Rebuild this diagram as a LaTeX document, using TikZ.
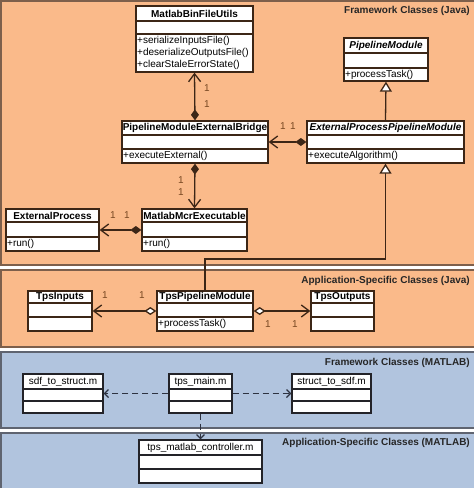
\documentclass[tikz,border=0pt]{standalone}
\usepackage{fontspec}
\setmainfont{Liberation Sans}
\usetikzlibrary{arrows.meta,fit}
\definecolor{panelOrange}{RGB}{250,186,138}
\definecolor{panelBlue}{RGB}{177,196,222}
\definecolor{edgeOrange}{RGB}{125,95,75}
\definecolor{edgeBlue}{RGB}{95,100,112}
\definecolor{lineDark}{RGB}{60,38,22}
\definecolor{boxBlue}{RGB}{35,35,40}
\definecolor{multColor}{RGB}{120,72,35}
\definecolor{dashBlue}{RGB}{45,50,65}
\tikzset{
  clsname/.style={font=\fontsize{10}{12}\selectfont\bfseries, inner sep=0pt},
  clsnamei/.style={font=\fontsize{10}{12}\selectfont\bfseries\itshape, inner sep=0pt},
  clsnamer/.style={font=\fontsize{10}{12}\selectfont, inner sep=0pt},
  ops/.style={font=\fontsize{10}{12}\selectfont, align=left, anchor=west, inner xsep=1pt, inner ysep=0pt},
  mult/.style={font=\fontsize{10}{12}\selectfont, text=multColor, inner sep=0pt},
  paneltitle/.style={font=\fontsize{10}{12}\selectfont\bfseries, text=black!85, anchor=east, inner sep=0pt},
  assoc/.style={draw=lineDark, line width=1.3pt},
  barb/.tip={Straight Barb[length=8pt,width=12pt]},
  fdiam/.tip={Diamond[length=11pt,width=8pt]},
  odiam/.tip={Diamond[open,fill=white,length=12pt,width=8pt]},
  otri/.tip={Triangle[open,fill=white,length=10pt,width=12pt]},
  dep/.style={draw=dashBlue, line width=1.2pt, dash pattern=on 6pt off 4pt},
  dbarb/.tip={Straight Barb[length=4pt,width=8pt]},
}
% name, x1, y1, x2, y2, line1, line2, title style, title
\newcommand{\umlclass}[9]{%
  \node[draw=lineDark, fill=white, line width=1.3pt, inner sep=0pt, fit={(#2,#3) (#4,#5)}] (#1) {};
  \draw[draw=lineDark, line width=1.1pt] (#2,#6) -- (#4,#6) (#2,#7) -- (#4,#7);
  \node[#8] (#1-name) at ({(#2+#4)/2},{(#3+#6)/2}) {#9};
}
\newcommand{\mclass}[9]{%
  \node[draw=boxBlue, fill=white, line width=1.3pt, inner sep=0pt, fit={(#2,#3) (#4,#5)}] (#1) {};
  \draw[draw=boxBlue, line width=1.1pt] (#2,#6) -- (#4,#6) (#2,#7) -- (#4,#7);
  \node[#8] (#1-name) at ({(#2+#4)/2},{(#3+#6)/2}) {#9};
}
\begin{document}
\begin{tikzpicture}[x=1pt,y=-1pt]
\useasboundingbox (0,0) rectangle (474,488);
\clip (0,0) rectangle (474,488);
\fill[white] (0,0) rectangle (474,488);
% panels
\draw[fill=panelOrange, draw=edgeOrange, line width=2pt] (1,1) rectangle (484,265);
\draw[fill=panelOrange, draw=edgeOrange, line width=2pt] (1,270) rectangle (484,347);
\draw[fill=panelBlue, draw=edgeBlue, line width=2pt] (1,352) rectangle (484,428);
\draw[fill=panelBlue, draw=edgeBlue, line width=2pt] (1,433) rectangle (484,496);
\node[paneltitle] (t1) at (470,11) {Framework Classes (Java)};
\node[paneltitle] (t2) at (470,281) {Application-Specific Classes (Java)};
\node[paneltitle] (t3) at (470,363) {Framework Classes (MATLAB)};
\node[paneltitle] (t4) at (470,443) {Application-Specific Classes (MATLAB)};
% Java framework classes
\umlclass{mbfu}{136}{6}{253}{72}{21}{34}{clsname}{MatlabBinFileUtils}
\node[ops] (mbfu-ops) at (136,53) {+serializeInputsFile()\\+deserializeOutputsFile()\\+clearStaleErrorState()};
\umlclass{pm}{344}{38}{428}{81}{53}{68}{clsnamei}{PipelineModule}
\node[ops] (pm-ops) at (344,74.5) {+processTask()};
\umlclass{bridge}{122}{121}{268}{163}{135}{149}{clsname}{PipelineModuleExternalBridge}
\node[ops] (bridge-ops) at (122,156) {+executeExternal()};
\umlclass{eppm}{307}{121}{464}{163}{135}{149}{clsnamei}{ExternalProcessPipelineModule}
\node[ops] (eppm-ops) at (307,156) {+executeAlgorithm()};
\umlclass{extproc}{6}{209}{99}{251}{222}{237}{clsname}{ExternalProcess}
\node[ops] (extproc-ops) at (6,244) {+run()};
\umlclass{mme}{142}{209}{247}{251}{222}{237}{clsname}{MatlabMcrExecutable}
\node[ops] (mme-ops) at (142,244) {+run()};
% Java application classes
\umlclass{tpsin}{28}{291}{92}{331}{303}{317}{clsname}{TpsInputs}
\umlclass{tpm}{157}{291}{253}{331}{303}{317}{clsname}{TpsPipelineModule}
\node[ops] (tpm-ops) at (157,324) {+processTask()};
\umlclass{tpsout}{311}{291}{374}{331}{303}{317}{clsname}{TpsOutputs}
% MATLAB classes
\mclass{sdf2s}{23}{374}{103}{413}{389}{401}{clsnamer}{sdf\_to\_struct.m}
\mclass{tpsmain}{169}{374}{232}{413}{389}{401}{clsnamer}{tps\_main.m}
\mclass{s2sdf}{292}{374}{371}{413}{389}{401}{clsnamer}{struct\_to\_sdf.m}
\mclass{ctrl}{139}{440}{262}{483}{455}{469}{clsnamer}{tps\_matlab\_controller.m}
% connectors
\draw[assoc, fdiam-barb] (bridge.north) -- (mbfu.south);
\node[mult] (m1) at (207,88) {1};
\node[mult] (m2) at (207,104) {1};
\draw[assoc, fdiam-barb] (eppm.west) -- (bridge.east);
\node[mult] (m3) at (283,126) {1};
\node[mult] (m4) at (293,126) {1};
\draw[assoc, fdiam-barb] (bridge.south) -- (mme.north);
\node[mult] (m5) at (181,180) {1};
\node[mult] (m6) at (181,192) {1};
\draw[assoc, fdiam-barb] (mme.west) -- (extproc.east);
\node[mult] (m7) at (113,215) {1};
\node[mult] (m8) at (127,215) {1};
\draw[assoc, -otri] (eppm.north) -- (pm.south);
\coordinate (genbend) at (205,259);
\draw[assoc, -otri] (tpm.north) -- (genbend) -| (eppm.south);
\draw[assoc, odiam-barb] (tpm.west) -- (tpsin.east);
\node[mult] (m9) at (105,295) {1};
\node[mult] (m10) at (142,295) {1};
\draw[assoc, odiam-barb] (tpm.east) -- (tpsout.west);
\node[mult] (m11) at (268,324) {1};
\node[mult] (m12) at (295,324) {1};
\draw[dep, -dbarb] (tpsmain.west) -- (sdf2s.east);
\draw[dep, -dbarb] (tpsmain.east) -- (s2sdf.west);
\draw[dep, -dbarb] (tpsmain.south) -- (ctrl.north);
\end{tikzpicture}
\end{document}
